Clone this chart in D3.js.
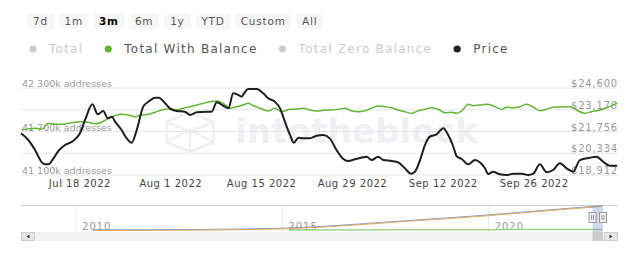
<!DOCTYPE html>
<html lang="en">
<head>
<meta charset="UTF-8">
<title>Addresses With Balance vs Price</title>
<script src="https://d3js.org/d3.v7.min.js"></script>
<style>
  body { margin: 0; background: #fff; }
  svg { display: block; font-family: "DejaVu Sans", sans-serif; }
</style>
</head>
<body>
<svg id="chart" width="640" height="260"></svg>
<script>
// ---- data ----
const rangeButtons = ["7d", "1m", "3m", "6m", "1y", "YTD", "Custom", "All"];
const activeButton = "3m";

const legendNames = ["Total", "Total With Balance", "Total Zero Balance", "Price"];
const legendColors = ["#cccccc", "#62b536", "#cccccc", "#222222"];
const legendHidden = [true, false, true, false];

const xTickDates = ["2022-07-18", "2022-08-01", "2022-08-15", "2022-08-29", "2022-09-12", "2022-09-26"];
const addrTicks = [41100, 41700, 42300];            // thousands of addresses
const priceTicks = [18912, 20334, 21756, 23178, 24600];

const priceDates = [
  "2022-07-09 00","2022-07-10 03","2022-07-11 04","2022-07-12 05","2022-07-12 17","2022-07-13 05","2022-07-14 00","2022-07-14 18","2022-07-15 19","2022-07-17 01",
  "2022-07-18 02","2022-07-18 21","2022-07-20 00","2022-07-20 20","2022-07-21 16","2022-07-22 09","2022-07-23 00","2022-07-23 12","2022-07-24 12","2022-07-25 07",
  "2022-07-26 01","2022-07-26 20","2022-07-27 20","2022-07-28 15","2022-07-29 16","2022-07-30 06","2022-07-31 05","2022-07-31 23","2022-08-02 00","2022-08-03 06",
  "2022-08-04 01","2022-08-05 02","2022-08-06 15","2022-08-07 09","2022-08-08 04","2022-08-09 04","2022-08-09 23","2022-08-10 17","2022-08-11 12","2022-08-12 00",
  "2022-08-12 09","2022-08-13 00","2022-08-14 08","2022-08-15 08","2022-08-16 02","2022-08-17 03","2022-08-17 22","2022-08-18 16","2022-08-19 11","2022-08-20 01",
  "2022-08-20 18","2022-08-21 12","2022-08-22 13","2022-08-23 13","2022-08-24 14","2022-08-25 14","2022-08-26 15","2022-08-27 16","2022-08-28 10","2022-08-29 11",
  "2022-08-30 18","2022-08-31 06","2022-09-01 01","2022-09-02 01","2022-09-02 20","2022-09-04 03","2022-09-05 03","2022-09-06 04","2022-09-07 02","2022-09-07 17",
  "2022-09-08 12","2022-09-09 06","2022-09-10 00","2022-09-11 01","2022-09-12 02","2022-09-12 20","2022-09-13 15","2022-09-14 03","2022-09-14 22","2022-09-15 22",
  "2022-09-16 23","2022-09-17 17","2022-09-18 12","2022-09-19 00","2022-09-19 18","2022-09-20 19","2022-09-21 20","2022-09-22 21","2022-09-24 04","2022-09-25 04",
  "2022-09-25 23","2022-09-26 23","2022-09-28 00","2022-09-29 00","2022-09-30 01","2022-10-01 02","2022-10-02 02","2022-10-03 03","2022-10-04 16","2022-10-05 17",
  "2022-10-06 17","2022-10-07 18","2022-10-08 21"
];
const priceValues = [
  21640, 21200, 20550, 19740, 19610, 19610, 20000, 20480, 20870, 21140,
  21640, 22510, 23530, 22880, 23100, 22620, 22720, 22400, 21850, 21310,
  21020, 21850, 23380, 23700, 23970, 23970, 23600, 23270, 23100, 23050,
  22840, 23010, 23050, 23050, 23670, 23440, 23270, 24250, 24140, 24030,
  24250, 24540, 24540, 24250, 23930, 23700, 23270, 22400, 21530, 21020,
  21350, 21310, 21310, 21480, 21530, 21310, 20550, 19960, 19830, 19940,
  20070, 20110, 19890, 20110, 19890, 19830, 19740, 19350, 19000, 19130,
  19890, 20870, 21420, 21570, 21970, 21530, 20760, 20150, 19960, 19610,
  19890, 19740, 19350, 18980, 19130, 18960, 18910, 19000, 19000, 18910,
  19000, 19610, 19090, 19240, 19680, 19350, 19130, 19890, 20040, 20110,
  19780, 19520, 19520
];

const addrDates = [
  "2022-07-09 02","2022-07-10 03","2022-07-11 04","2022-07-12 05","2022-07-13 05","2022-07-14 06","2022-07-15 06","2022-07-16 07","2022-07-17 08","2022-07-18 08",
  "2022-07-19 09","2022-07-20 10","2022-07-21 10","2022-07-22 11","2022-07-23 12","2022-07-24 12","2022-07-25 13","2022-07-26 14","2022-07-27 14","2022-07-28 15",
  "2022-07-29 16","2022-07-30 16","2022-07-31 17",
  "2022-08-02 00","2022-08-03 00","2022-08-04 01","2022-08-05 02","2022-08-06 02","2022-08-07 03","2022-08-08 04","2022-08-09 04","2022-08-10 05","2022-08-11 06",
  "2022-08-12 06","2022-08-13 00","2022-08-13 19","2022-08-14 20","2022-08-16 02","2022-08-17 03","2022-08-18 04","2022-08-19 11","2022-08-20 12","2022-08-21 12",
  "2022-08-22 13","2022-08-23 13","2022-08-24 14","2022-08-25 21","2022-08-26 21","2022-08-27 22","2022-08-28 23","2022-08-29 23","2022-08-31 00",
  "2022-09-01 01","2022-09-02 01","2022-09-03 02","2022-09-04 03","2022-09-05 03","2022-09-06 04","2022-09-07 05","2022-09-08 05","2022-09-09 06","2022-09-10 07",
  "2022-09-11 07","2022-09-12 08","2022-09-13 09","2022-09-14 03","2022-09-14 22","2022-09-15 22","2022-09-16 17","2022-09-17 17","2022-09-18 18","2022-09-19 18",
  "2022-09-21 02","2022-09-21 20","2022-09-22 21","2022-09-23 21","2022-09-24 22","2022-09-25 23","2022-09-26 23","2022-09-28 00","2022-09-29 00","2022-09-30 13",
  "2022-10-01 20","2022-10-02 21","2022-10-03 22","2022-10-04 22","2022-10-06 05","2022-10-07 06","2022-10-08 06","2022-10-08 21"
];
const addrValues = [
  41721, 41734, 41744, 41734, 41813, 41799, 41799, 41813, 41827, 41835,
  41827, 41807, 41827, 41882, 41918, 41937, 41927, 41904, 41927, 41937,
  41965, 41996, 42010,
  41996, 42020, 42042, 42065, 42089, 42111, 42120, 42089, 42020, 42042,
  42065, 42089, 42056, 42020, 41983, 42020, 41973, 42006, 42010, 42020,
  41996, 41983, 41992, 41996, 42006, 42020, 41983, 41973, 41987,
  42020, 42051, 42042, 42028, 41996, 41973, 41951, 41987, 42006, 42028,
  42006, 41959, 41965, 41951, 41983, 42075, 42056, 42065, 42075, 42056,
  42006, 42034, 42028, 42042, 42075, 42034, 41987, 42006, 42034, 42042,
  42038, 41983, 41951, 41973, 41996, 42028, 42065, 42089
];

// navigator (whole history, millions of addresses)
const navYears = ["2010", "2015", "2020"];
const navTotalDates = ["2010-06","2011-01","2012-01","2013-01","2014-01","2015-01","2016-01","2017-01","2018-01","2019-01","2020-01","2021-01","2022-01","2022-10"];
const navTotalValues = [0, 2, 6, 15, 35, 70, 150, 270, 400, 520, 650, 800, 950, 1050];
const navBalanceDates = ["2015-03","2016-01","2018-01","2020-01","2022-10"];
const navBalanceValues = [20, 25, 30, 38, 42];

// ---- drawing ----
const svg = d3.select("#chart");
const parseHour = d3.timeParse("%Y-%m-%d %H");
const parseDay = d3.timeParse("%Y-%m-%d");
const parseMonth = d3.timeParse("%Y-%m");
const parseYear = d3.timeParse("%Y");

const plotLeft = 21, plotRight = 618, plotTop = 88, plotBottom = 175;

const x = d3.scaleTime()
    .domain([parseDay("2022-07-09"), parseDay("2022-10-09")])
    .range([plotLeft, plotRight]);
const yPrice = d3.scaleLinear().domain([18912, 24600]).range([plotBottom, plotTop]);
const yAddr = d3.scaleLinear().domain([41100, 42300]).range([plotBottom, plotTop]);

// range buttons
let bx = 27;
rangeButtons.forEach(function (b) {
    const g = svg.append("g").attr("transform", "translate(" + bx + ",13)");
    const r = g.append("rect").attr("height", 16).attr("rx", 2).attr("fill", "#f7f7f7");
    const t = g.append("text")
        .attr("y", 12)
        .attr("font-size", 10.5)
        .attr("letter-spacing", 0.8)
        .attr("font-weight", b === activeButton ? "bold" : "normal")
        .attr("fill", b === activeButton ? "#000" : "#555")
        .text(b);
    const w = Math.max(27, t.node().getComputedTextLength() + 11);
    r.attr("width", w);
    t.attr("x", w / 2).attr("text-anchor", "middle");
    bx += w + 5;
});

// legend
let lx = 33;
legendNames.forEach(function (name, i) {
    svg.append("circle").attr("cx", lx).attr("cy", 49).attr("r", 3.6).attr("fill", legendColors[i]);
    const t = svg.append("text")
        .attr("x", lx + 16).attr("y", 53)
        .attr("font-size", 12)
        .attr("letter-spacing", 1.25)
        .attr("fill", legendHidden[i] ? "#cccccc" : "#555")
        .text(name);
    lx += 16 + t.node().getComputedTextLength() + 25;
});

// watermark
const wm = svg.append("g").attr("fill", "none").attr("stroke", "#eef0f3").attr("stroke-width", 2.5);
const hx = 190, hy = 132, rx = 27, ry = 20;
const hex = d3.range(6).map(function (k) {
    const a = Math.PI / 6 + k * Math.PI / 3;
    return [hx + rx * Math.cos(a), hy + ry * Math.sin(a)];
});
wm.append("path").attr("d", d3.line()(hex) + "Z");
wm.append("path").attr("d", d3.line()([[hx - rx * 0.87, hy - ry * 0.5], [hx, hy], [hx + rx * 0.87, hy - ry * 0.5]]));
wm.append("path").attr("d", d3.line()([[hx, hy], [hx, hy + ry]]));
wm.append("path").attr("d", d3.line()([[hx - rx * 0.87, hy + ry * 0.5], [hx, hy - ry * 0.1], [hx + rx * 0.87, hy + ry * 0.5]]));
svg.append("text")
    .attr("x", 235).attr("y", 143)
    .attr("font-size", 34).attr("font-weight", "bold")
    .attr("textLength", 243).attr("lengthAdjust", "spacingAndGlyphs")
    .attr("fill", "#eef0f3")
    .text("intotheblock");

// gridlines
svg.append("g").selectAll("line")
    .data(priceTicks)
    .join("line")
    .attr("x1", plotLeft).attr("x2", plotRight)
    .attr("y1", function (d) { return yPrice(d); })
    .attr("y2", function (d) { return yPrice(d); })
    .attr("stroke", "#e6e6e6");

// left axis (addresses)
const fmtK = d3.formatLocale({ decimal: ".", thousands: " ", grouping: [3], currency: ["", ""] }).format(",");
const leftAxis = svg.append("g")
    .attr("transform", "translate(" + (plotLeft + 1) + ",0)")
    .call(d3.axisRight(yAddr).tickValues(addrTicks).tickSize(0).tickPadding(0)
        .tickFormat(function (d) { return fmtK(d) + "k addresses"; }));
leftAxis.select(".domain").remove();
leftAxis.selectAll("text")
    .attr("y", -1.5).attr("dy", 0)
    .attr("font-family", "DejaVu Sans").attr("font-size", 9.5).attr("fill", "#999");

// right axis (price)
const rightAxis = svg.append("g")
    .attr("transform", "translate(" + plotRight + ",0)")
    .call(d3.axisLeft(yPrice).tickValues(priceTicks).tickSize(0).tickPadding(0)
        .tickFormat(function (d) { return "$" + d3.format(",")(d); }));
rightAxis.select(".domain").remove();
rightAxis.selectAll("text")
    .attr("y", -1.5).attr("dy", 0)
    .attr("font-family", "DejaVu Sans").attr("font-size", 10).attr("letter-spacing", 0.8).attr("fill", "#999");

// x axis
const xAxis = svg.append("g")
    .attr("transform", "translate(0," + plotBottom + ")")
    .call(d3.axisBottom(x).tickValues(xTickDates.map(parseDay)).tickSize(0).tickPadding(5)
        .tickFormat(d3.timeFormat("%b %-d %Y")));
xAxis.select(".domain").remove();
xAxis.selectAll("text")
    .attr("font-family", "DejaVu Sans").attr("font-size", 10).attr("letter-spacing", 0.5).attr("fill", "#444");

// series
const addrData = addrDates.map(function (d, i) { return { date: parseHour(d), value: addrValues[i] }; });
const priceData = priceDates.map(function (d, i) { return { date: parseHour(d), value: priceValues[i] }; });

svg.append("path")
    .datum(addrData)
    .attr("fill", "none")
    .attr("stroke", "#62b536")
    .attr("stroke-width", 1.5)
    .attr("d", d3.line().curve(d3.curveMonotoneX)
        .x(function (d) { return x(d.date); })
        .y(function (d) { return yAddr(d.value); }));

svg.append("path")
    .datum(priceData)
    .attr("fill", "none")
    .attr("stroke", "#1e1e1e")
    .attr("stroke-width", 2)
    .attr("stroke-linejoin", "round")
    .attr("d", d3.line().curve(d3.curveMonotoneX)
        .x(function (d) { return x(d.date); })
        .y(function (d) { return yPrice(d.value); }));

// ---- navigator ----
const navTop = 205.5, navBottom = 232;
const navX = d3.scaleTime()
    .domain([parseDay("2008-09-01"), parseDay("2023-02-19")])
    .range([plotLeft, plotRight]);
const navY = d3.scaleLinear().domain([0, 1050]).range([230.5, 206.5]);

svg.append("line")
    .attr("x1", plotLeft).attr("x2", plotRight).attr("y1", navTop).attr("y2", navTop)
    .attr("stroke", "#cccccc");

const navGrid = svg.append("g");
navYears.forEach(function (yr) {
    const px = navX(parseYear(yr));
    navGrid.append("line")
        .attr("x1", px).attr("x2", px).attr("y1", navTop).attr("y2", navBottom)
        .attr("stroke", "#e6e6e6");
    navGrid.append("text")
        .attr("x", px + 6).attr("y", 230)
        .attr("font-size", 10).attr("letter-spacing", 1)
        .attr("fill", "#999")
        .text(yr);
});

const navLine = d3.line()
    .x(function (d) { return navX(d.date); })
    .y(function (d) { return navY(d.value); });
const navTotal = navTotalDates.map(function (d, i) { return { date: parseMonth(d), value: navTotalValues[i] }; });
const navBal = navBalanceDates.map(function (d, i) { return { date: parseMonth(d), value: navBalanceValues[i] }; });

svg.append("path").datum(navBal).attr("fill", "none")
    .attr("stroke", "#9fd38a").attr("stroke-width", 1.5).attr("d", navLine);
svg.append("path").datum(navTotal).attr("fill", "none")
    .attr("stroke", "#7d9ccf").attr("stroke-width", 1).attr("transform", "translate(0,-0.7)").attr("d", navLine);
svg.append("path").datum(navTotal).attr("fill", "none")
    .attr("stroke", "#e0a95a").attr("stroke-width", 1).attr("d", navLine);

// selected range
const selX0 = navX(x.domain()[0]), selX1 = navX(x.domain()[1]);
svg.append("rect")
    .attr("x", selX0).attr("y", navTop).attr("width", selX1 - selX0).attr("height", navBottom - navTop)
    .attr("fill", "rgba(102,133,194,0.3)");

// scrollbar
svg.append("rect")
    .attr("x", plotLeft).attr("y", navBottom).attr("width", plotRight - plotLeft).attr("height", 9)
    .attr("fill", "#f2f2f2");
svg.append("rect")
    .attr("x", selX0).attr("y", navBottom).attr("width", selX1 - selX0).attr("height", 9)
    .attr("fill", "#cccccc");
[plotLeft, plotRight - 14].forEach(function (bx0, i) {
    svg.append("rect")
        .attr("x", bx0 + 0.5).attr("y", navBottom + 0.5).attr("width", 13).attr("height", 8)
        .attr("fill", "#e6e6e6").attr("stroke", "#cccccc");
    const cx = bx0 + 7, cy = navBottom + 4.5;
    const pts = i === 0
        ? [[cx + 1.5, cy - 2], [cx - 1.5, cy], [cx + 1.5, cy + 2]]
        : [[cx - 1.5, cy - 2], [cx + 1.5, cy], [cx - 1.5, cy + 2]];
    svg.append("path").attr("d", d3.line()(pts) + "Z").attr("fill", "#333");
});

// handles
[selX0, selX1].forEach(function (hxp) {
    const g = svg.append("g").attr("transform", "translate(" + (hxp - 4) + ",212)");
    g.append("rect").attr("x", 0.5).attr("y", 0.5).attr("width", 7).attr("height", 10)
        .attr("fill", "#f2f2f2").attr("stroke", "#999");
    g.append("line").attr("x1", 3).attr("x2", 3).attr("y1", 3).attr("y2", 8).attr("stroke", "#999");
    g.append("line").attr("x1", 5).attr("x2", 5).attr("y1", 3).attr("y2", 8).attr("stroke", "#999");
});
</script>
</body>
</html>
